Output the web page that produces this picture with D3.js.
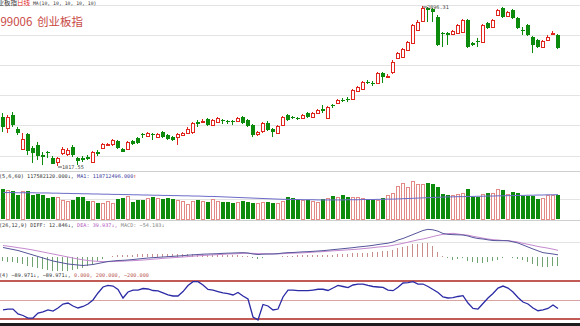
<!DOCTYPE html>
<html>
<head>
<meta charset="utf-8">
<script src="https://cdn.jsdelivr.net/npm/d3@7"></script>
<style>
body { margin: 0; background: #fff; overflow: hidden; }
svg { display: block; }
</style>
</head>
<body>
<svg id="chart" width="580" height="326"></svg>
<script>
// daily candles
const open = [2148,2074,2162,2068,1933,2034,1939,1960,1892,1912,1872,1845,1906,1899,1946,1872,1872,1879,1845,1912,
  1939,1960,1966,1987,1933,1933,1987,2007,2034,2020,2034,2014,2047,2027,2014,2014,2027,2041,2047,2115,
  2115,2135,2095,2115,2128,2121,2121,2121,2148,2128,2095,2034,2054,2108,2068,2041,2095,2162,2148,2142,
  2142,2175,2148,2175,2202,2142,2229,2243,2263,2270,2270,2324,2337,2384,2378,2378,2445,2418,2452,2546,
  2553,2600,2647,2735,2795,2883,2876,2822,2715,2715,2708,2715,2721,2802,2647,2661,2654,2782,2755,2836,
  2883,2829,2870,2816,2735,2769,2688,2667,2620,2667,2708,2701];
const close = [2081,2148,2095,2041,2000,1919,1906,1885,1879,1906,1832,1872,1933,1926,1892,1852,1859,1865,1912,1899,
  1966,1966,1993,1939,1912,1980,1966,1973,2027,2041,2027,2034,2014,2000,1993,2034,2041,2068,2108,2101,
  2121,2095,2128,2142,2121,2115,2115,2142,2108,2088,2027,2047,2108,2061,2047,2088,2148,2128,2142,2135,
  2162,2148,2175,2196,2189,2216,2223,2263,2256,2263,2330,2351,2384,2378,2371,2445,2418,2425,2519,2580,
  2607,2654,2769,2789,2883,2870,2856,2634,2708,2701,2728,2769,2802,2620,2634,2654,2769,2748,2802,2870,
  2822,2856,2816,2748,2728,2701,2634,2620,2661,2688,2715,2613];
const high = [2175,2162,2182,2081,2041,2041,1953,1980,1912,1919,1885,1879,1946,1939,1960,1879,1885,1892,1919,1926,
  1973,1973,2000,1993,1939,1987,1993,2014,2041,2047,2041,2041,2054,2034,2020,2041,2047,2081,2115,2128,
  2135,2142,2135,2148,2135,2128,2128,2148,2155,2135,2101,2054,2115,2121,2074,2095,2155,2169,2155,2148,
  2169,2182,2182,2202,2229,2223,2236,2270,2276,2283,2337,2357,2391,2398,2391,2452,2452,2438,2533,2587,
  2613,2661,2775,2802,2896.31,2890,2883,2836,2721,2721,2735,2775,2809,2809,2654,2681,2775,2789,2809,2876,
  2890,2863,2876,2822,2755,2775,2694,2674,2667,2701,2728,2708];
const low = [2047,2041,2081,2027,1926,1892,1838,1859,1825,1872,1830,1817.55,1892,1885,1879,1825,1845,1859,1838,1885,
  1933,1953,1953,1933,1910,1926,1960,1966,2007,2014,1993,2007,2007,1993,1987,1960,2020,2034,2034,2081,
  2108,2088,2088,2108,2101,2101,2095,2115,2101,2081,2014,2020,2041,2054,2014,2034,2088,2121,2135,2128,
  2135,2142,2142,2169,2175,2135,2209,2236,2250,2250,2263,2317,2330,2371,2357,2371,2378,2411,2438,2539,
  2546,2593,2640,2728,2789,2789,2789,2627,2620,2634,2701,2708,2715,2613,2627,2620,2647,2742,2748,2829,
  2816,2822,2809,2742,2701,2694,2580,2613,2613,2661,2701,2607];

// volume and its moving average, in millions
const volume = [147,142,137,118,137,137,118,123,118,103,108,108,93,88,93,108,108,88,88,78,
  78,88,78,98,103,113,83,93,93,103,108,103,98,103,98,93,88,74,88,93,
  88,83,98,88,83,83,78,83,88,83,78,78,83,83,78,78,88,108,103,93,
  93,93,88,83,98,103,113,108,118,108,108,108,103,93,93,93,103,118,127,162,
  176,157,186,172,172,176,172,157,123,118,118,123,127,147,108,108,123,127,127,147,
  142,123,132,127,113,113,113,98,103,118,118,117.58212];
const volMa = [129,129,129,128,128,128,128,127,127,127,126,126,125,125,124,124,123,123,122,122,
  121,121,120,120,119,119,118,118,117,117,116,116,115,115,114,114,113,113,112,112,
  111,110,110,109,108,107,106,105,104,103,102,101,100,99,98,97,96,96,95,95,
  94,94,94,93,93,93,93,93,93,94,94,94,95,95,95,96,96,97,97,98,
  99,100,101,102,103,104,105,106,107,108,108,109,109,110,110,111,111,112,112,113,
  113,114,114,115,115,116,116,117,117,118,118,118.712496];

// MACD(12,26,9)
const diff = [57,51,45,39,30,21,12,3,-6,-15,-24,-30,-36,-42,-45,-48,-51,-48,-45,-39,
  -33,-27,-24,-21,-20,-18,-15,-12,-9,-6,-4,-2,0,2,4,6,8,11,13,15,
  17,18,19,20,22,23,24,25,26,24,18,15,17,18,18,20,24,26,27,29,
  31,32,34,36,38,41,44,47,50,53,56,60,63,66,70,75,79,83,90,102,
  111,123,135,147,159,166,163,155,141,136,134,133,132,126,117,111,108,103,99,98,
  98,98,91,84,72,60,48,37,26,22,18,12.846];
const dea = [69,65,61,56,52,47,42,36,30,24,18,12,6,0,-6,-12,-17,-21,-24,-26,
  -28,-28,-27,-26,-25,-23,-22,-20,-18,-16,-13,-11,-8,-6,-4,-2,0,2,5,7,
  9,11,13,14,16,18,19,20,22,22,22,20,20,19,19,19,20,22,23,24,
  25,27,29,31,32,35,37,39,41,43,45,47,50,53,56,60,62,65,70,76,
  82,89,96,103,108,115,123,130,136,140,142,138,134,131,124,119,113,108,104,102,
  99,97,94,90,82,76,70,63,58,53,47,39.937];
const macd = [-24,-28,-32,-34,-44,-52,-60,-66,-72,-78,-84,-84,-84,-84,-78,-72,-68,-54,-42,-26,
  -10,2,6,10,10,10,14,16,18,20,18,18,16,16,16,16,16,18,16,16,
  16,14,12,12,12,10,10,10,8,4,-8,-10,-6,-2,-2,2,8,8,8,10,
  12,10,10,10,12,12,14,16,18,20,22,26,26,26,28,30,34,36,40,52,
  58,68,78,80,86,84,64,30,8,-8,-16,-10,-4,-24,-32,-36,-34,-30,-24,-16,
  -6,-2,-6,-12,-20,-32,-44,-52,-60,-58,-56,-54.183];

// CCI(14)
const cci = [-105,-95,-95,-147,-163,-190,-190,-137,-126,-105,-116,-84,-42,-32,-63,-84,-68,-42,0,74,
  137,153,147,111,21,84,105,105,121,116,100,95,74,53,42,42,89,153,193,193,
  158,111,105,89,74,68,53,79,42,11,-179,-210,-47,-63,-105,-95,32,105,105,98,
  98,98,105,113,113,100,126,153,142,130,158,168,168,153,142,137,132,105,98,134,
  179,182,193,168,168,142,111,79,32,21,26,37,45,-32,-89,-95,-37,21,68,126,
  147,126,84,26,-21,-42,-84,-113,-105,-89,-53,-89.971];

const priceGrid = [2903, 2701, 2499, 2297, 2094, 1886];
const volGrid = [98];
const macdGrid = [90];
const cciBands = [0, 200, -200];

const RED = "#e0251f", GREEN = "#0b8a0b";
const svg = d3.select("#chart");
const n = close.length;
const idx = d3.range(n);

const x = d3.scaleLinear().domain([0, n - 1]).range([1, 556]);
const yPrice = d3.scaleLinear().domain([1817.55, 2896.31]).range([166, 6]);
const yVol = d3.scaleLinear().domain([0, 200]).range([219, 178]);
const yMacd = d3.scaleLinear().domain([-60, 150]).range([267, 232]);
const yCci = d3.scaleLinear().domain([-200, 200]).range([319, 281]);

const up = i => close[i] >= open[i];

// grid lines
function hline(y, color, w) {
  svg.append("line").attr("x1", 0).attr("x2", 580).attr("y1", y).attr("y2", y)
    .attr("stroke", color).attr("stroke-width", w || 1).attr("shape-rendering", "crispEdges");
}
priceGrid.forEach(p => hline(Math.round(yPrice(p)) + 0.5, "#e3e3e3"));
hline(171.5, "#cfcfcf");
volGrid.forEach(v => hline(Math.round(yVol(v)) + 0.5, "#e3e3e3"));
hline(220.5, "#cfcfcf");
macdGrid.forEach(v => hline(Math.round(yMacd(v)) + 0.5, "#e3e3e3"));
hline(yCci(200), "#c25a55", 2);
hline(Math.round(yCci(0)) + 0.5, "#d8a3a0", 1);
hline(yCci(-200), "#c25a55", 2);
svg.append("rect").attr("x", 0).attr("y", 323).attr("width", 580).attr("height", 3).attr("fill", "#1c1c1c");

// candlesticks
const candles = svg.append("g").attr("shape-rendering", "crispEdges");
candles.selectAll("line").data(idx).join("line")
  .attr("x1", i => x(i) + 1.5).attr("x2", i => x(i) + 1.5)
  .attr("y1", i => yPrice(high[i])).attr("y2", i => yPrice(low[i]))
  .attr("stroke", i => up(i) ? RED : GREEN);
candles.selectAll("rect").data(idx).join("rect")
  .attr("x", i => up(i) ? x(i) + 0.5 : x(i))
  .attr("width", i => up(i) ? 3 : 4)
  .attr("y", i => Math.round(yPrice(Math.max(open[i], close[i]))) + (up(i) ? 0.5 : 0))
  .attr("height", i => Math.max(up(i) ? 0 : 1, Math.round(yPrice(Math.min(open[i], close[i]))) - Math.round(yPrice(Math.max(open[i], close[i])))))
  .attr("fill", i => up(i) ? "#fff" : GREEN)
  .attr("stroke", i => up(i) ? RED : "none");

// small label font
const label = (sel) => sel.attr("font-family", "'DejaVu Sans Mono', 'Liberation Mono', monospace").attr("font-size", 5.2);

// high / low marks
const iMax = d3.maxIndex(high), iMin = d3.minIndex(low);
[[iMax, high[iMax], yPrice(high[iMax]) + 1], [iMin, low[iMin], yPrice(low[iMin]) + 1]].forEach(([i, v, yy]) => {
  svg.append("line").attr("x1", x(i) + 2).attr("x2", x(i) + 6).attr("y1", yy).attr("y2", yy).attr("stroke", "#555");
  svg.append("text").call(label).attr("x", x(i) + 6).attr("y", yy + 2).attr("fill", "#444").text(d3.format(".2f")(v));
});

// volume
const vol = svg.append("g").attr("shape-rendering", "crispEdges");
vol.selectAll("rect").data(idx).join("rect")
  .attr("x", i => up(i) ? x(i) + 0.5 : x(i))
  .attr("width", i => up(i) ? 3 : 4)
  .attr("y", i => Math.round(yVol(volume[i])) + (up(i) ? 0.5 : 0))
  .attr("height", i => yVol(0) - Math.round(yVol(volume[i])) - (up(i) ? 0.5 : 0))
  .attr("fill", i => up(i) ? "#fff" : GREEN)
  .attr("stroke", i => up(i) ? "#e48a86" : "none");
svg.append("path").datum(idx)
  .attr("d", d3.line().x(i => x(i) + 2).y(i => yVol(volMa[i])))
  .attr("fill", "none").attr("stroke", "#6b6bc8").attr("stroke-width", 1);

// MACD
const mg = svg.append("g").attr("shape-rendering", "crispEdges");
mg.selectAll("line").data(idx).join("line")
  .attr("x1", i => x(i) + 1.5).attr("x2", i => x(i) + 1.5)
  .attr("y1", yMacd(0)).attr("y2", i => yMacd(macd[i]))
  .attr("stroke", i => macd[i] >= 0 ? "#c98d8a" : "#6fa36f");
svg.append("path").datum(idx)
  .attr("d", d3.line().x(i => x(i) + 2).y(i => yMacd(dea[i])))
  .attr("fill", "none").attr("stroke", "#c58ad0").attr("stroke-width", 1);
svg.append("path").datum(idx)
  .attr("d", d3.line().x(i => x(i) + 2).y(i => yMacd(diff[i])))
  .attr("fill", "none").attr("stroke", "#55559a").attr("stroke-width", 1);

// CCI
svg.append("path").datum(idx)
  .attr("d", d3.line().x(i => x(i) + 2).y(i => yCci(cci[i])))
  .attr("fill", "none").attr("stroke", "#2b2ba6").attr("stroke-width", 1.3);

// texts
const fmt3 = d3.format(".3f");
const last = n - 1;
const t0 = svg.append("text").attr("y", 5).attr("font-family", "'Noto Sans CJK SC', sans-serif").attr("font-size", 6.5);
t0.append("tspan").attr("x", -9).attr("fill", "#333").text("创业板指");
t0.append("tspan").attr("fill", RED).text("日线");
t0.append("tspan").attr("fill", "#333").attr("font-family", "'DejaVu Sans Mono', monospace").attr("font-size", 4.8).text(" MA(10, 10, 10, 10, 10)");

const title = svg.append("text").attr("y", 26).attr("fill", "#c94a45")
  .attr("font-family", "'Noto Sans CJK SC', sans-serif").attr("font-size", 11.5);
title.append("tspan").attr("x", -6).text("399006");
title.append("tspan").attr("x", 37).text("创业板指");

const tv = svg.append("text").call(label).attr("x", -1).attr("y", 178);
tv.append("tspan").attr("fill", "#333").text("(5,6,60) " + fmt3(volume[last] * 1e6) + "↓, ");
tv.append("tspan").attr("fill", "#3b3b9a").text("MA1: " + fmt3(volMa[last] * 1e6));
tv.append("tspan").attr("fill", RED).text("↑");

const tm = svg.append("text").call(label).attr("x", -1).attr("y", 227);
tm.append("tspan").attr("fill", "#333").text("(26,12,9) DIFF: " + fmt3(diff[last]) + "↓, ");
tm.append("tspan").attr("fill", "#b35bc0").text("DEA: " + fmt3(dea[last]) + "↓, ");
tm.append("tspan").attr("fill", "#888").text("MACD: " + fmt3(macd[last]) + "↓");

const tc = svg.append("text").call(label).attr("x", -1).attr("y", 277);
tc.append("tspan").attr("fill", "#333").text("(4) " + fmt3(cci[last]) + "↓, " + fmt3(cci[last]) + "↓, ");
tc.append("tspan").attr("fill", "#b8524d").text(cciBands.map(v => fmt3(v)).join(", "));
</script>
</body>
</html>
